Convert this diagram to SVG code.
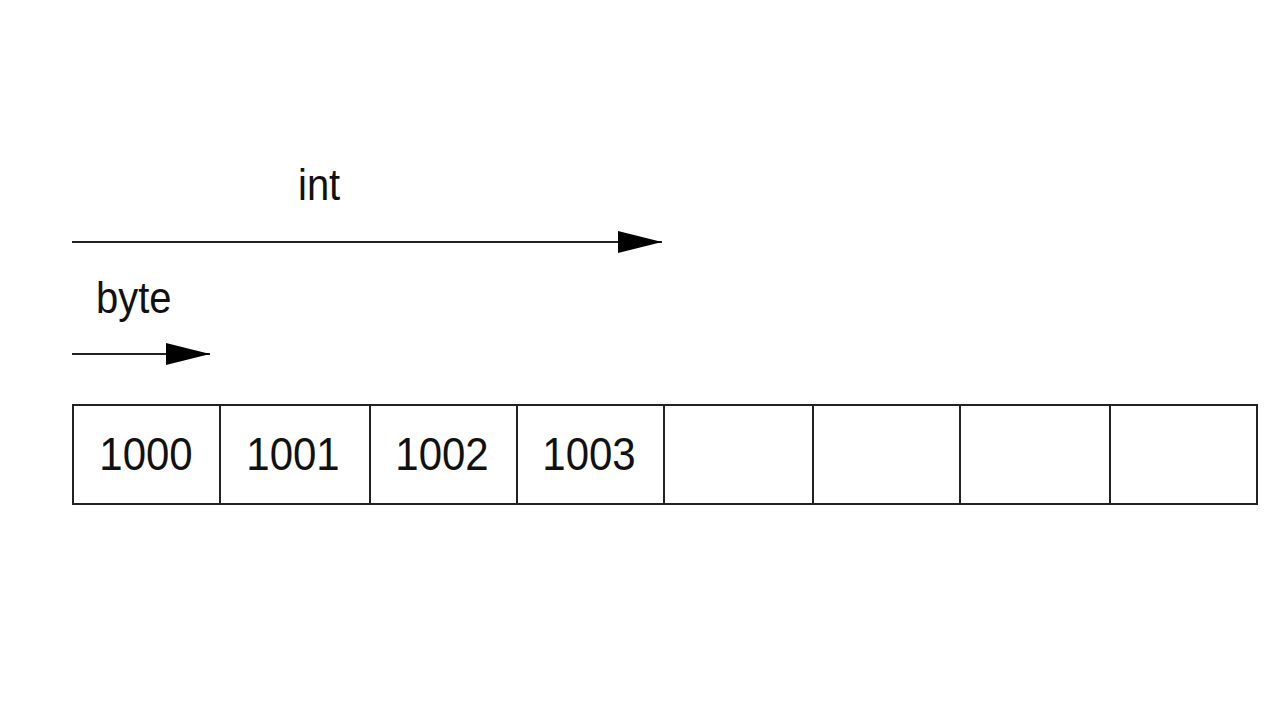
<svg xmlns="http://www.w3.org/2000/svg" width="1280" height="719" viewBox="0 0 1280 719">
<defs>
<style>
text{font-family:"Liberation Sans",Arial,sans-serif;fill:#111}
.lbl{font-size:40px}
.num{font-size:42px;text-anchor:middle}
.cell{fill:#fff;stroke:#222;stroke-width:2}
.conn{stroke:#222;stroke-width:2;fill:none}
</style>
<marker id="ah" markerUnits="userSpaceOnUse" markerWidth="46" markerHeight="24" refX="44" refY="12" orient="auto">
<path d="M0,1 L44,12 L0,23 Z" fill="#000"/>
</marker>
</defs>
<rect width="1280" height="719" fill="#fff"/>
<g id="connectors">
<line class="conn" x1="72" y1="242" x2="662" y2="242" marker-end="url(#ah)"/>
<line class="conn" x1="72" y1="354" x2="210" y2="354" marker-end="url(#ah)"/>
</g>
<g id="label-int"><text class="lbl" x="298" y="200" transform="translate(0,-20) scale(1,1.1)">int</text></g>
<g id="label-byte"><text class="lbl" x="96" y="313" transform="translate(0,-31.3) scale(1,1.1)">byte</text></g>
<g id="cell-1000"><rect class="cell" x="73" y="405" width="147" height="99"/><text class="num" x="146" y="470" transform="translate(0,-47) scale(1,1.1)">1000</text></g>
<g id="cell-1001"><rect class="cell" x="220" y="405" width="150" height="99"/><text class="num" x="293" y="470" transform="translate(0,-47) scale(1,1.1)">1001</text></g>
<g id="cell-1002"><rect class="cell" x="370" y="405" width="147" height="99"/><text class="num" x="442" y="470" transform="translate(0,-47) scale(1,1.1)">1002</text></g>
<g id="cell-1003"><rect class="cell" x="517" y="405" width="147" height="99"/><text class="num" x="589" y="470" transform="translate(0,-47) scale(1,1.1)">1003</text></g>
<g id="cell-5"><rect class="cell" x="664" y="405" width="149" height="99"/></g>
<g id="cell-6"><rect class="cell" x="813" y="405" width="147" height="99"/></g>
<g id="cell-7"><rect class="cell" x="960" y="405" width="150" height="99"/></g>
<g id="cell-8"><rect class="cell" x="1110" y="405" width="147" height="99"/></g>
</svg>
